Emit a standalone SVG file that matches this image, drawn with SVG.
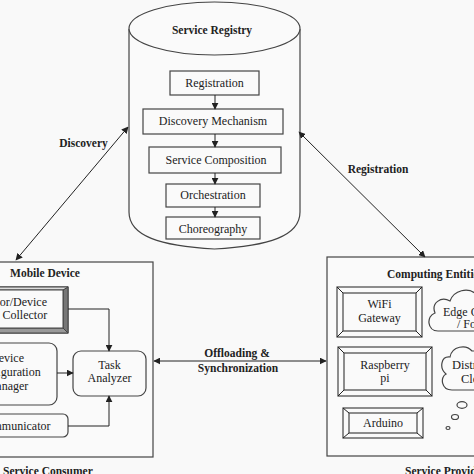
<svg xmlns="http://www.w3.org/2000/svg" width="474" height="474" viewBox="0 0 474 474">
<defs>
<marker id="ah" viewBox="0 0 10 10" refX="9" refY="5" markerWidth="7" markerHeight="7" markerUnits="userSpaceOnUse" orient="auto-start-reverse">
<path d="M0,0 L10,5 L0,10 Z" fill="#222"/>
</marker>
<style>
.ln{stroke:#333;stroke-width:1.2;fill:none}
.bx{stroke:#444;stroke-width:1.2;fill:#fafafa}
.t{font-family:"Liberation Serif",serif;font-size:12px;fill:#222;text-anchor:middle}
.b{font-family:"Liberation Serif",serif;font-size:11.5px;font-weight:bold;fill:#222;text-anchor:middle}
.bs{font-family:"Liberation Serif",serif;font-size:11.5px;font-weight:bold;fill:#222}
.cn{stroke:#222;stroke-width:1;fill:none}
</style>
</defs>
<rect x="0" y="0" width="474" height="474" fill="#f9f9f9"/>

<g id="service-registry">
<path class="bx" d="M129,29 L129,212 C129,236 160,246 214.5,249 C269,246 300,236 300,212 L300,29"/>
<ellipse class="bx" cx="214.5" cy="28.5" rx="85.5" ry="26.5"/>
<text class="b" x="212" y="34">Service Registry</text>
</g>
<g id="registration-box">
<rect class="bx" x="170" y="71" width="89" height="24"/>
<text class="t" x="214.5" y="87">Registration</text>
</g>
<g id="discovery-mechanism">
<rect class="bx" x="143" y="109" width="140" height="25"/>
<text class="t" x="213" y="125">Discovery Mechanism</text>
</g>
<g id="service-composition">
<rect class="bx" x="149" y="147" width="132" height="26"/>
<text class="t" x="216" y="164">Service Composition</text>
</g>
<g id="orchestration">
<rect class="bx" x="166" y="184" width="94" height="23"/>
<text class="t" x="213" y="199">Orchestration</text>
</g>
<g id="choreography">
<rect class="bx" x="166" y="217" width="94" height="22"/>
<text class="t" x="213" y="233">Choreography</text>
</g>

<g id="mobile-device">
<rect class="bx" x="-5" y="262" width="158" height="195"/>
<text class="b" x="45" y="277">Mobile Device</text>
<text class="bs" x="3" y="475">Service Consumer</text>
</g>
<g id="sensor-collector">
<rect x="-44" y="287" width="112" height="46" fill="#f4f4f4" stroke="#444" stroke-width="1.2"/>
<polygon points="63,290 68,287 68,333 63,328" fill="#777" stroke="#444" stroke-width="1"/>
<polygon points="-40,328 63,328 68,333 -44,333" fill="#999" stroke="#444" stroke-width="1"/>
<polygon points="-44,287 68,287 63,290 -40,290" fill="#ddd" stroke="#444" stroke-width="1"/>
<rect x="-40" y="290" width="103" height="38" fill="#fafafa" stroke="#444" stroke-width="1"/>
<text class="t" x="12" y="306">Sensor/Device</text>
<text class="t" x="12" y="319">Data Collector</text>
</g>
<g id="device-config-manager">
<rect class="bx" x="-43" y="343" width="100" height="62" rx="8"/>
<text class="t" x="7" y="362">Device</text>
<text class="t" x="7" y="376">Configuration</text>
<text class="t" x="7" y="390">Manager</text>
</g>
<g id="communicator">
<rect class="bx" x="-40" y="414" width="108" height="23" rx="5"/>
<text class="t" x="14.5" y="430">Communicator</text>
</g>
<g id="task-analyzer">
<rect class="bx" x="73" y="351" width="73" height="45" rx="8"/>
<text class="t" x="109.5" y="369">Task</text>
<text class="t" x="109.5" y="382">Analyzer</text>
</g>

<g id="computing-entities">
<rect class="bx" x="327" y="257" width="160" height="199"/>
<text class="bs" x="387" y="278">Computing Entities</text>
<text class="bs" x="405" y="475">Service Providers</text>
</g>
<g id="wifi-gateway">
<rect class="bx" x="337" y="287" width="85" height="50"/>
<rect class="bx" x="343" y="293" width="73" height="38"/>
<path class="cn" d="M337,287 L343,293 M422,287 L416,293 M337,337 L343,331 M422,337 L416,331"/>
<text class="t" x="379.5" y="308">WiFi</text>
<text class="t" x="379.5" y="322">Gateway</text>
</g>
<g id="raspberry-pi">
<rect class="bx" x="338" y="347" width="94" height="49"/>
<rect class="bx" x="344" y="353" width="82" height="37"/>
<path class="cn" d="M338,347 L344,353 M432,347 L426,353 M338,396 L344,390 M432,396 L426,390"/>
<text class="t" x="385" y="369">Raspberry</text>
<text class="t" x="385" y="382">pi</text>
</g>
<g id="arduino">
<rect class="bx" x="343" y="408" width="80" height="30"/>
<rect class="bx" x="349" y="413" width="68" height="20"/>
<path class="cn" d="M343,408 L349,413 M423,408 L417,413 M343,438 L349,433 M423,438 L417,433"/>
<text class="t" x="383" y="427">Arduino</text>
</g>
<g id="edge-fog-cloud">
<path class="bx" d="M438,331 C427,331 426,316 435,313 C431,303 441,296 450,301 C454,290 468,287 476,294 L480,294 L480,331 Z"/>
<text class="t" x="443" y="315.5" style="text-anchor:start">Edge Computing</text>
<text class="t" x="457" y="328" style="text-anchor:start">/ Fog</text>
</g>
<g id="distributed-cloud">
<path class="bx" d="M452,390 C441,390 440,377 446,374 C439,368 441,356 450,357 C452,346 466,344 472,351 L480,351 L480,390 Z"/>
<text class="t" x="452" y="368.5" style="text-anchor:start;font-size:12.5px">Distributed</text>
<text class="t" x="461" y="382.5" style="text-anchor:start;font-size:12.5px">Cloud</text>
<ellipse class="bx" cx="462" cy="405" rx="5" ry="3.3"/>
<ellipse class="bx" cx="455" cy="417" rx="3.5" ry="2.5"/>
<ellipse class="bx" cx="448" cy="428" rx="2" ry="1.5"/>
</g>

<g id="connectors">
<path class="cn" d="M215,95 L215,109" marker-end="url(#ah)"/>
<path class="cn" d="M215,134 L215,147" marker-end="url(#ah)"/>
<path class="cn" d="M215,173 L215,184" marker-end="url(#ah)"/>
<path class="cn" d="M215,207 L215,217" marker-end="url(#ah)"/>
<path class="cn" d="M128,127 L16,260" marker-start="url(#ah)" marker-end="url(#ah)"/>
<path class="cn" d="M299,132 L425,257" marker-start="url(#ah)" marker-end="url(#ah)"/>
<path class="cn" d="M154,361 L326,361" marker-start="url(#ah)" marker-end="url(#ah)"/>
<path class="cn" d="M68,309 L109,309 L109,351" marker-end="url(#ah)"/>
<path class="cn" d="M57,373 L73,373" marker-end="url(#ah)"/>
<path class="cn" d="M68,426 L109,426 L109,396" marker-end="url(#ah)"/>
<text class="b" x="83.5" y="147">Discovery</text>
<text class="b" x="378" y="173">Registration</text>
<text class="b" x="237" y="357">Offloading &amp;</text>
<text class="b" x="238" y="372">Synchronization</text>
</g>
</svg>
